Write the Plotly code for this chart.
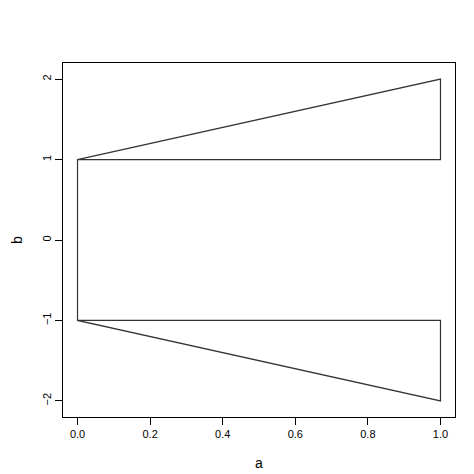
import plotly.graph_objects as go

a = [0, 1, 1, 0, 0, 1, 1, 0]
b = [1, 2, 1, 1, -1, -2, -1, -1]
x_ticks = [0.0, 0.2, 0.4, 0.6, 0.8, 1.0]
y_ticks = [-2, -1, 0, 1, 2]

fig = go.Figure()
fig.add_trace(go.Scatter(x=a, y=b, mode="lines",
                         line=dict(color="#333333", width=1.2), showlegend=False))

axis_style = dict(showline=True, mirror=True, linecolor="black", linewidth=1,
                  ticks="outside", ticklen=7, tickcolor="black", showgrid=False,
                  zeroline=False, automargin=False,
                  tickfont=dict(family="Liberation Sans", size=11, color="black"))
fig.update_xaxes(range=[-0.04, 1.04], tickvals=x_ticks,
                 ticktext=[f"{v:.1f}" for v in x_ticks],
                 title=dict(text="a", standoff=18), **axis_style)
fig.update_yaxes(range=[-2.2, 2.2], tickvals=y_ticks, tickangle=-90,
                 title=dict(text="b", standoff=14), **axis_style)
fig.update_layout(width=474, height=474, plot_bgcolor="white", paper_bgcolor="white",
                  margin=dict(l=55, r=27, t=55, b=65, autoexpand=False),
                  font=dict(family="Liberation Sans", size=12, color="black"))
fig.write_html("out.html")
